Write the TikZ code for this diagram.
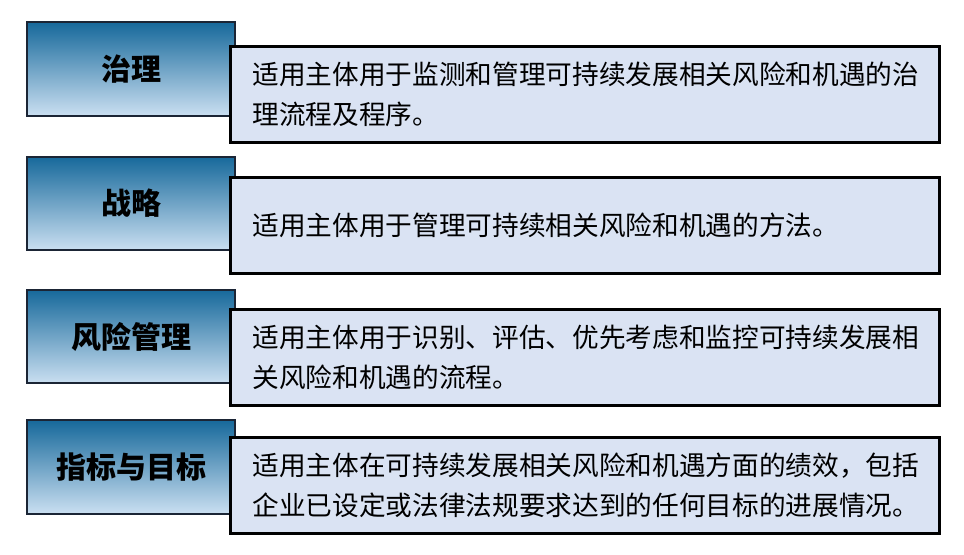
\documentclass[tikz,border=0pt]{standalone}
\usepackage{fontspec}
\newfontfamily\cjk{Noto Sans CJK SC}
\usetikzlibrary{positioning}
\definecolor{headtop}{HTML}{17699B}
\definecolor{headmid}{HTML}{62A0C9}
\definecolor{headbot}{HTML}{CADFF1}
\definecolor{headline}{HTML}{1B2535}
\definecolor{descfill}{HTML}{DAE3F3}
\begin{document}
\begin{tikzpicture}
  [x=0.75pt, y=-0.75pt,
   headbox/.style={draw=headline, line width=1.4pt, top color=headtop, middle color=headmid,
                   bottom color=headbot, minimum width=156pt, minimum height=70pt,
                   inner sep=0pt, font=\cjk\bfseries\fontsize{22.5}{26}\selectfont, text=black},
   descbox/.style={draw=black, line width=2pt, fill=descfill, anchor=north west,
                   minimum width=532pt, minimum height=72pt, text width=499pt,
                   inner xsep=16.5pt, align=left, font=\cjk\fontsize{20}{30}\selectfont}]
  \useasboundingbox (0,0) rectangle (964,555);
  % headings
  \node [headbox] (gov)  at (131,69)  {治理};
  \node [headbox] (strat) at (131,203.5) {战略};
  \node [headbox] (risk) at (131,336.5) {风险管理};
  \node [headbox] (metric) at (131,467) {指标与目标};
  % descriptions
  \node [descbox] (govtext) at (229,45)
     {适用主体用于监测和管理可持续发展相关风险和机遇的治\\理流程及程序。};
  \node [descbox] (strattext) at (229,176)
     {适用主体用于管理可持续相关风险和机遇的方法。};
  \node [descbox] (risktext) at (229,308)
     {适用主体用于识别、评估、优先考虑和监控可持续发展相\\关风险和机遇的流程。};
  \node [descbox] (metrictext) at (229,436)
     {适用主体在可持续发展相关风险和机遇方面的绩效，包括\\企业已设定或法律法规要求达到的任何目标的进展情况。};
\end{tikzpicture}
\end{document}
